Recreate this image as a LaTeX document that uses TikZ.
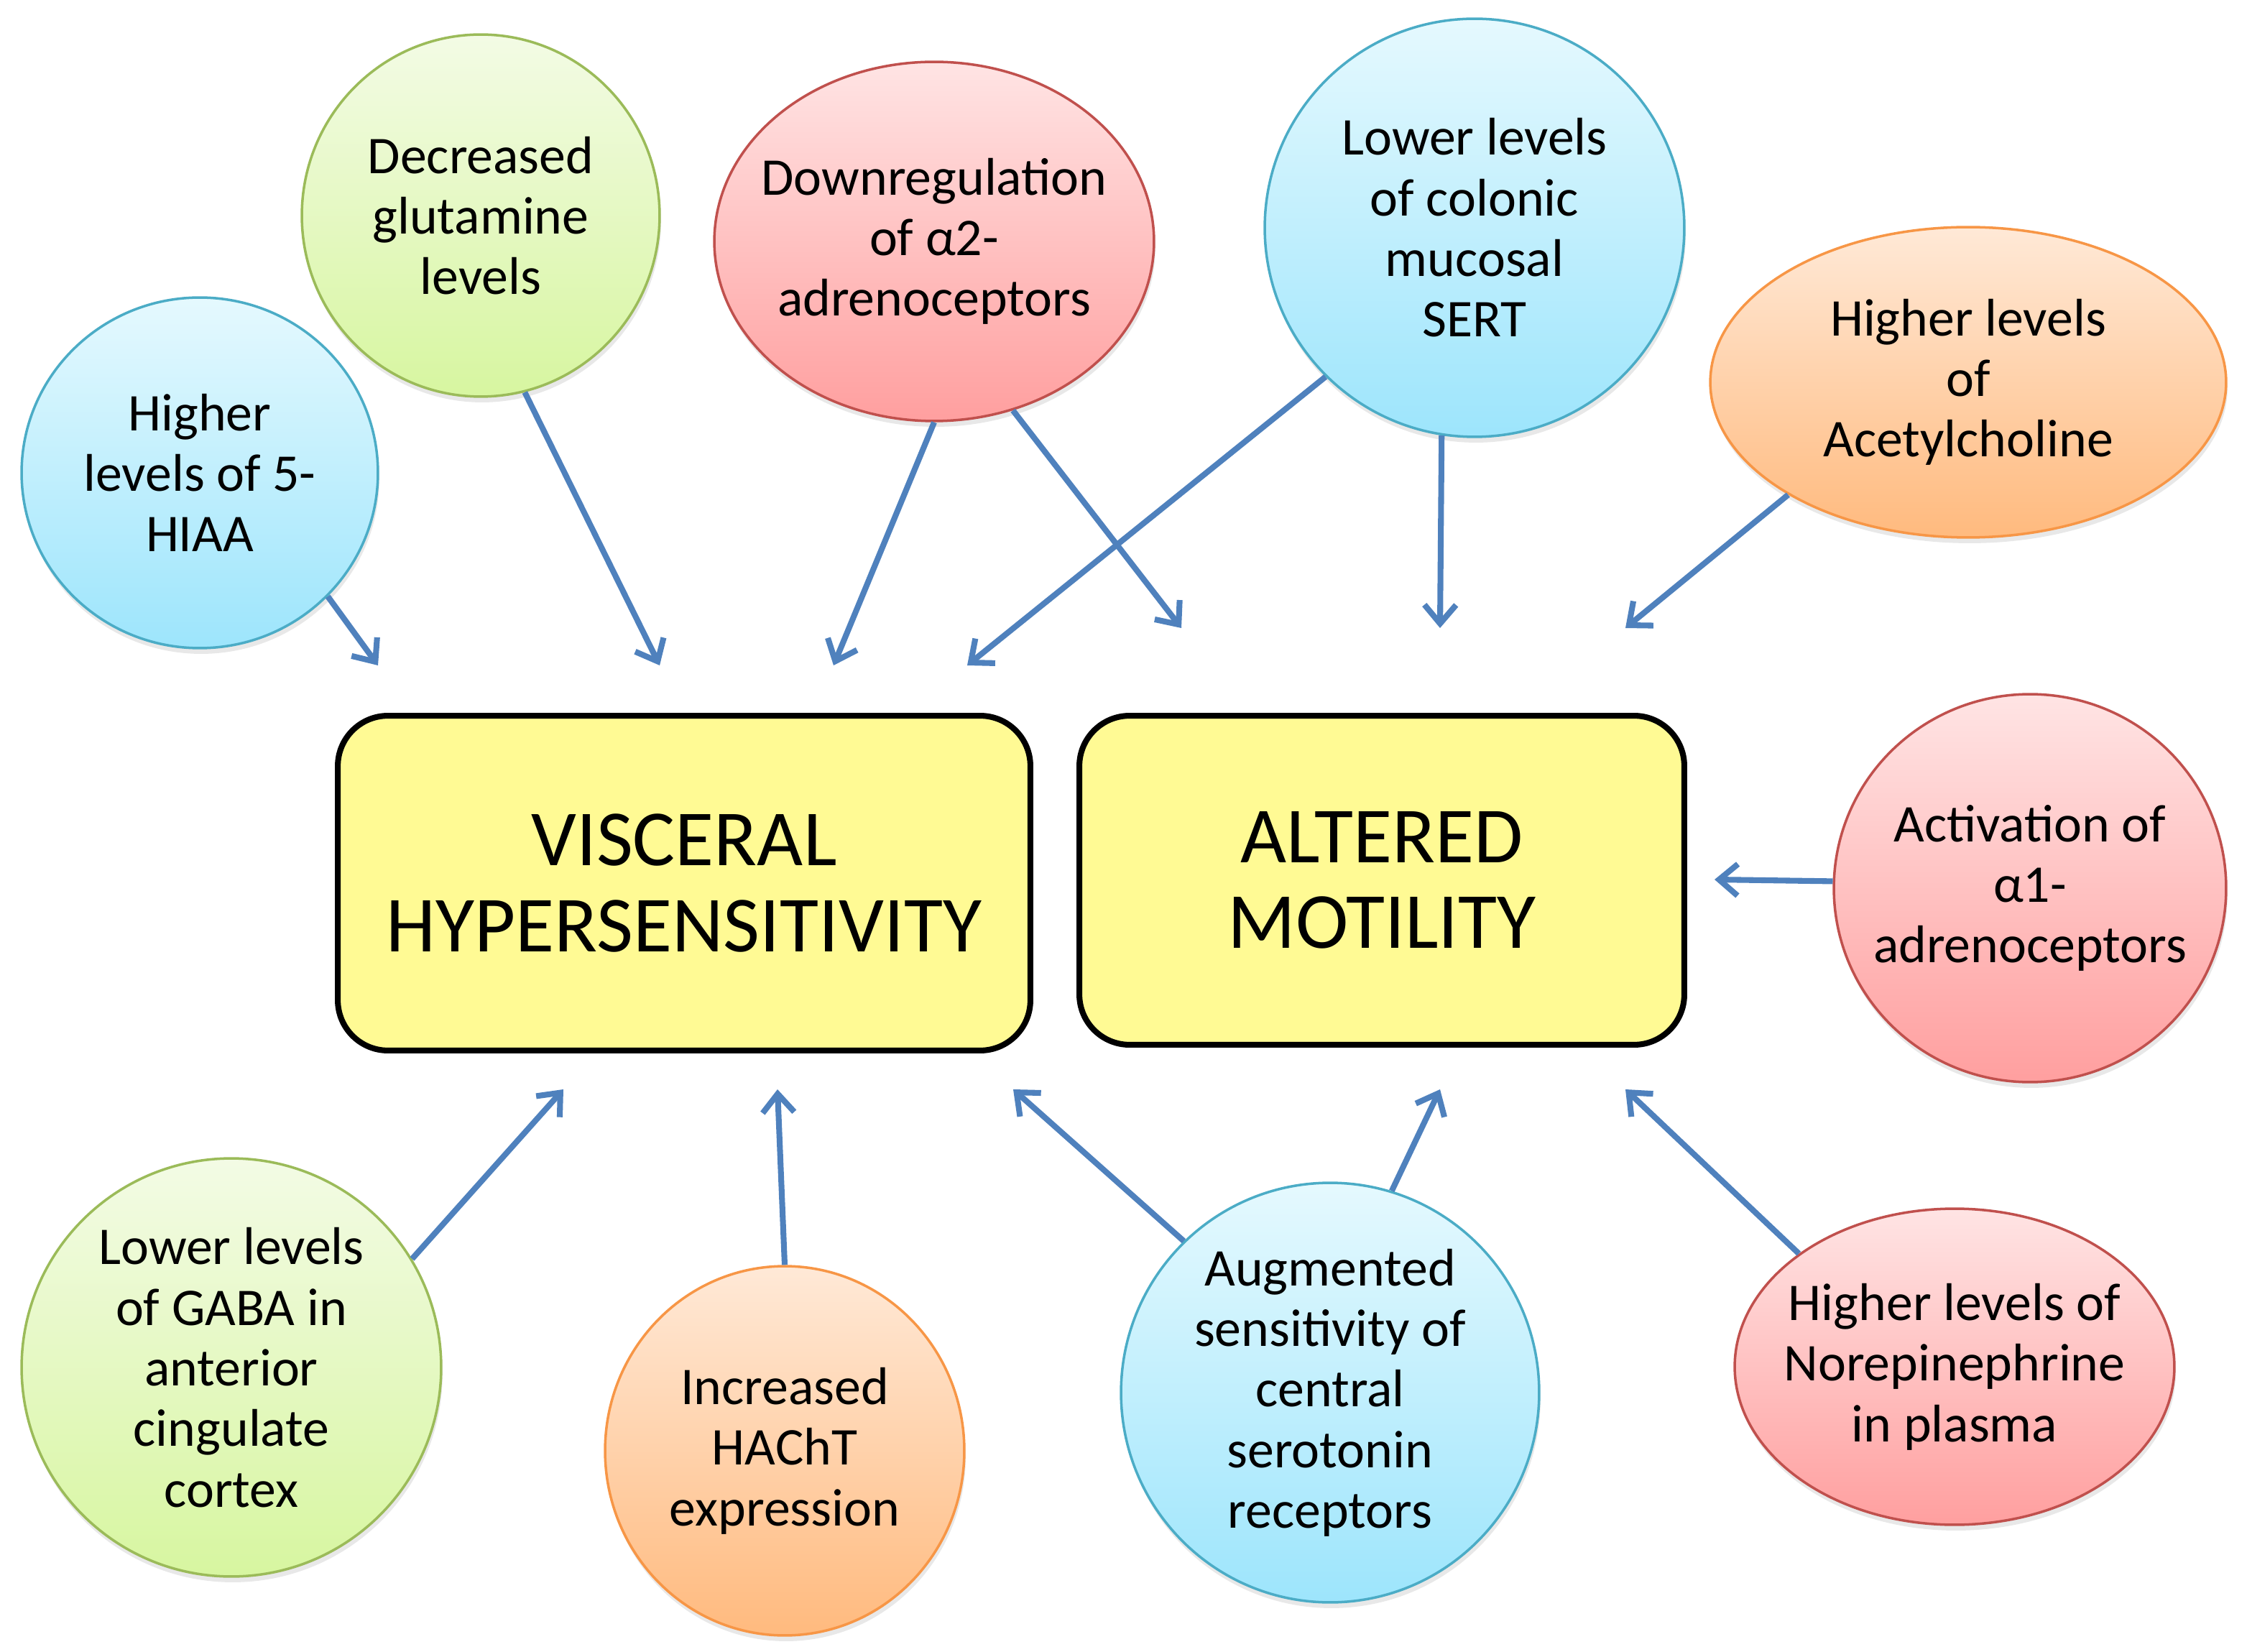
\documentclass[tikz,border=0pt]{standalone}
\usepackage{fontspec}
\setmainfont{Carlito}
\usetikzlibrary{arrows.meta,shapes.geometric,shadows}

\definecolor{blueline}{HTML}{4BACC6}
\definecolor{bluetop}{HTML}{E5F9FE}
\definecolor{bluebot}{HTML}{9DE5FC}
\definecolor{greenline}{HTML}{9BBB59}
\definecolor{greentop}{HTML}{F3FBE5}
\definecolor{greenbot}{HTML}{D7F6A0}
\definecolor{redline}{HTML}{C0504D}
\definecolor{redtop}{HTML}{FFE4E4}
\definecolor{redbot}{HTML}{FF9F9F}
\definecolor{orangeline}{HTML}{F79646}
\definecolor{orangetop}{HTML}{FFE9D7}
\definecolor{orangebot}{HTML}{FFBA7E}
\definecolor{boxyellow}{HTML}{FFFA94}
\definecolor{arrowblue}{HTML}{4F81BD}

\begin{document}
\begin{tikzpicture}[x=0.02cm, y=-0.02cm,
    bubble/.style={ellipse, draw=#1line, line width=1pt, top color=#1top, bottom color=#1bot,
      inner sep=0pt, drop shadow={shadow xshift=0.02cm, shadow yshift=-0.08cm, opacity=0.18}},
    txt/.style={align=center, inner sep=0pt, font=\fontsize{21}{24}\selectfont},
    effect/.style={rectangle, rounded corners=0.7cm, draw=black, line width=2.3pt,
      fill=boxyellow, align=center, font=\fontsize{31.5}{34}\selectfont},
    link/.style={draw=arrowblue, line width=2.3pt,
      -{Straight Barb[length=0.26cm, width=0.44cm, line width=2.3pt]}}]
   \useasboundingbox (0,0) rectangle (1563.5,1149.5);

   % the two effects
   \node[effect, minimum width=9.64cm, minimum height=4.66cm] (vh) at (476,614.5) {VISCERAL\\HYPERSENSITIVITY};
   \node[effect, minimum width=8.42cm, minimum height=4.58cm] (am) at (961.5,612.5) {ALTERED\\MOTILITY};

   % causes
   \node[bubble=blue, minimum width=4.96cm, minimum height=4.88cm,
     label={[txt]center:Higher\\levels of 5-\\HIAA}] (hiaa) at (139,329) {};
   \node[bubble=green, minimum width=4.98cm, minimum height=5.04cm,
     label={[txt]center:Decreased\\glutamine\\levels}] (glutamine) at (334.5,150) {};
   \node[bubble=red, minimum width=6.12cm, minimum height=5cm,
     label={[txt]center:Downregulation\\of α2-\\adrenoceptors}] (alphatwo) at (650,168) {};
   \node[bubble=blue, minimum width=5.84cm, minimum height=5.82cm,
     label={[txt]center:Lower levels\\of colonic\\mucosal\\SERT}] (sert) at (1026,158.5) {};
   \node[bubble=orange, minimum width=7.18cm, minimum height=4.32cm,
     label={[txt]center:Higher levels\\of\\Acetylcholine}] (acetyl) at (1369.5,266) {};
   \node[bubble=red, minimum width=5.46cm, minimum height=5.4cm,
     label={[txt]center:Activation of\\α1-\\adrenoceptors}] (alphaone) at (1412.5,618) {};
   \node[bubble=red, minimum width=6.12cm, minimum height=4.4cm,
     label={[txt]center:Higher levels of\\Norepinephrine\\in plasma}] (norepi) at (1360,951) {};
   \node[bubble=blue, minimum width=5.82cm, minimum height=5.84cm,
     label={[txt]center:Augmented\\sensitivity of\\central\\serotonin\\receptors}] (serotonin) at (925.5,969) {};
   \node[bubble=orange, minimum width=5cm, minimum height=5.14cm,
     label={[txt]center:Increased\\HAChT\\expression}] (hacht) at (546,1009.5) {};
   \node[bubble=green, minimum width=5.84cm, minimum height=5.82cm,
     label={[txt]center:Lower levels\\of GABA in\\anterior\\cingulate\\cortex}] (gaba) at (161,951.5) {};

   % arrow ends
   \coordinate (t1) at (263,463);
   \coordinate (t2) at (459,463);
   \coordinate (t3) at (580,463);
   \coordinate (t4) at (822,437);
   \coordinate (t5) at (673,463);
   \coordinate (t6) at (1002,437);
   \coordinate (t7) at (1131,437);
   \coordinate (t8) at (1193,612);
   \coordinate (t9) at (1131,758);
   \coordinate (t10) at (1002,758);
   \coordinate (t11) at (705,758);
   \coordinate (t12) at (541,758);
   \coordinate (t13) at (392,758);

   \draw[link] (hiaa.-44) -- (t1);
   \draw[link] (glutamine.-76) -- (t2);
   \draw[link] (alphatwo.-90) -- (t3);
   \draw[link] (alphatwo.-65) -- (t4);
   \draw[link] (sert.225) -- (t5);
   \draw[link] (sert.-99) -- (t6);
   \draw[link] (acetyl.212) -- (t7);
   \draw[link] (alphaone.178) -- (t8);
   \draw[link] (norepi.144) -- (t9);
   \draw[link] (serotonin.73) -- (t10);
   \draw[link] (serotonin.134) -- (t11);
   \draw[link] (hacht.90) -- (t12);
   \draw[link] (gaba.31) -- (t13);
 \end{tikzpicture}
\end{document}
